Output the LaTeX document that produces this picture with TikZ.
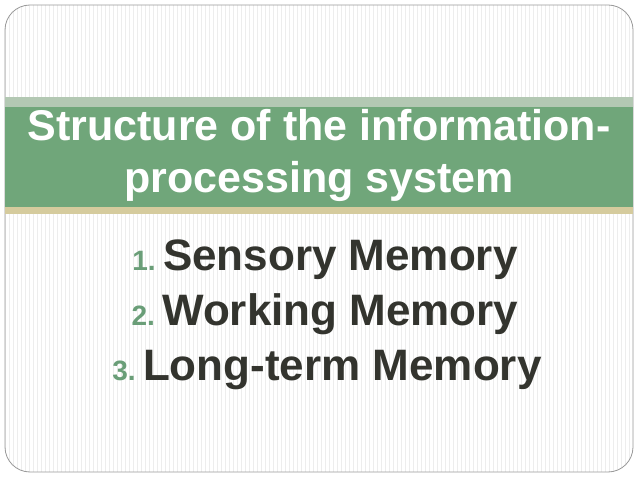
\documentclass[tikz,border=0pt]{standalone}
\usepackage{fontspec}
\setmainfont{Liberation Sans}
\definecolor{bandlight}{HTML}{B3C8B3}
\definecolor{bandgreen}{HTML}{70A67A}
\definecolor{bandtan}{HTML}{D5CB9D}
\definecolor{numgreen}{HTML}{6A9E78}
\definecolor{bodytext}{HTML}{33342E}
\tikzset{
 title/.style={text=white,font=\fontsize{43}{52}\selectfont\bfseries,align=center},
 item/.style={text=bodytext,font=\fontsize{44}{50}\selectfont\bfseries,anchor=base}
}
\newcommand{\numlab}[1]{\textcolor{numgreen}{\fontsize{28}{30}\selectfont #1}}
\begin{document}
\begin{tikzpicture}[x=1pt,y=-1pt]
\useasboundingbox (0,0) rectangle (638,478);
\fill[white] (0,0) rectangle (638,478);
\begin{scope}
\clip[rounded corners=25] (5,5) rectangle (633,472);
\foreach \i in {0,...,160} \draw[black!7,line width=0.6] (5+4*\i,5) -- (5+4*\i,472);
\end{scope}
\draw[gray!80,line width=0.8,rounded corners=25] (5,5) rectangle (633,472);
\fill[bandlight] (5,97) rectangle (633,107);
\fill[bandgreen] (5,107) rectangle (633,207);
\fill[bandtan] (5,207) rectangle (633,214);
\node[title] (t) at (319,155) {Structure of the information-\\processing system};
\node[item] (a) at (325,271) {\numlab{1.}\,Sensory Memory};
\node[item] (b) at (325,326) {\numlab{2.}\,Working Memory};
\node[item] (c) at (327,381) {\numlab{3.}\,Long-term Memory};
\end{tikzpicture}
\end{document}
